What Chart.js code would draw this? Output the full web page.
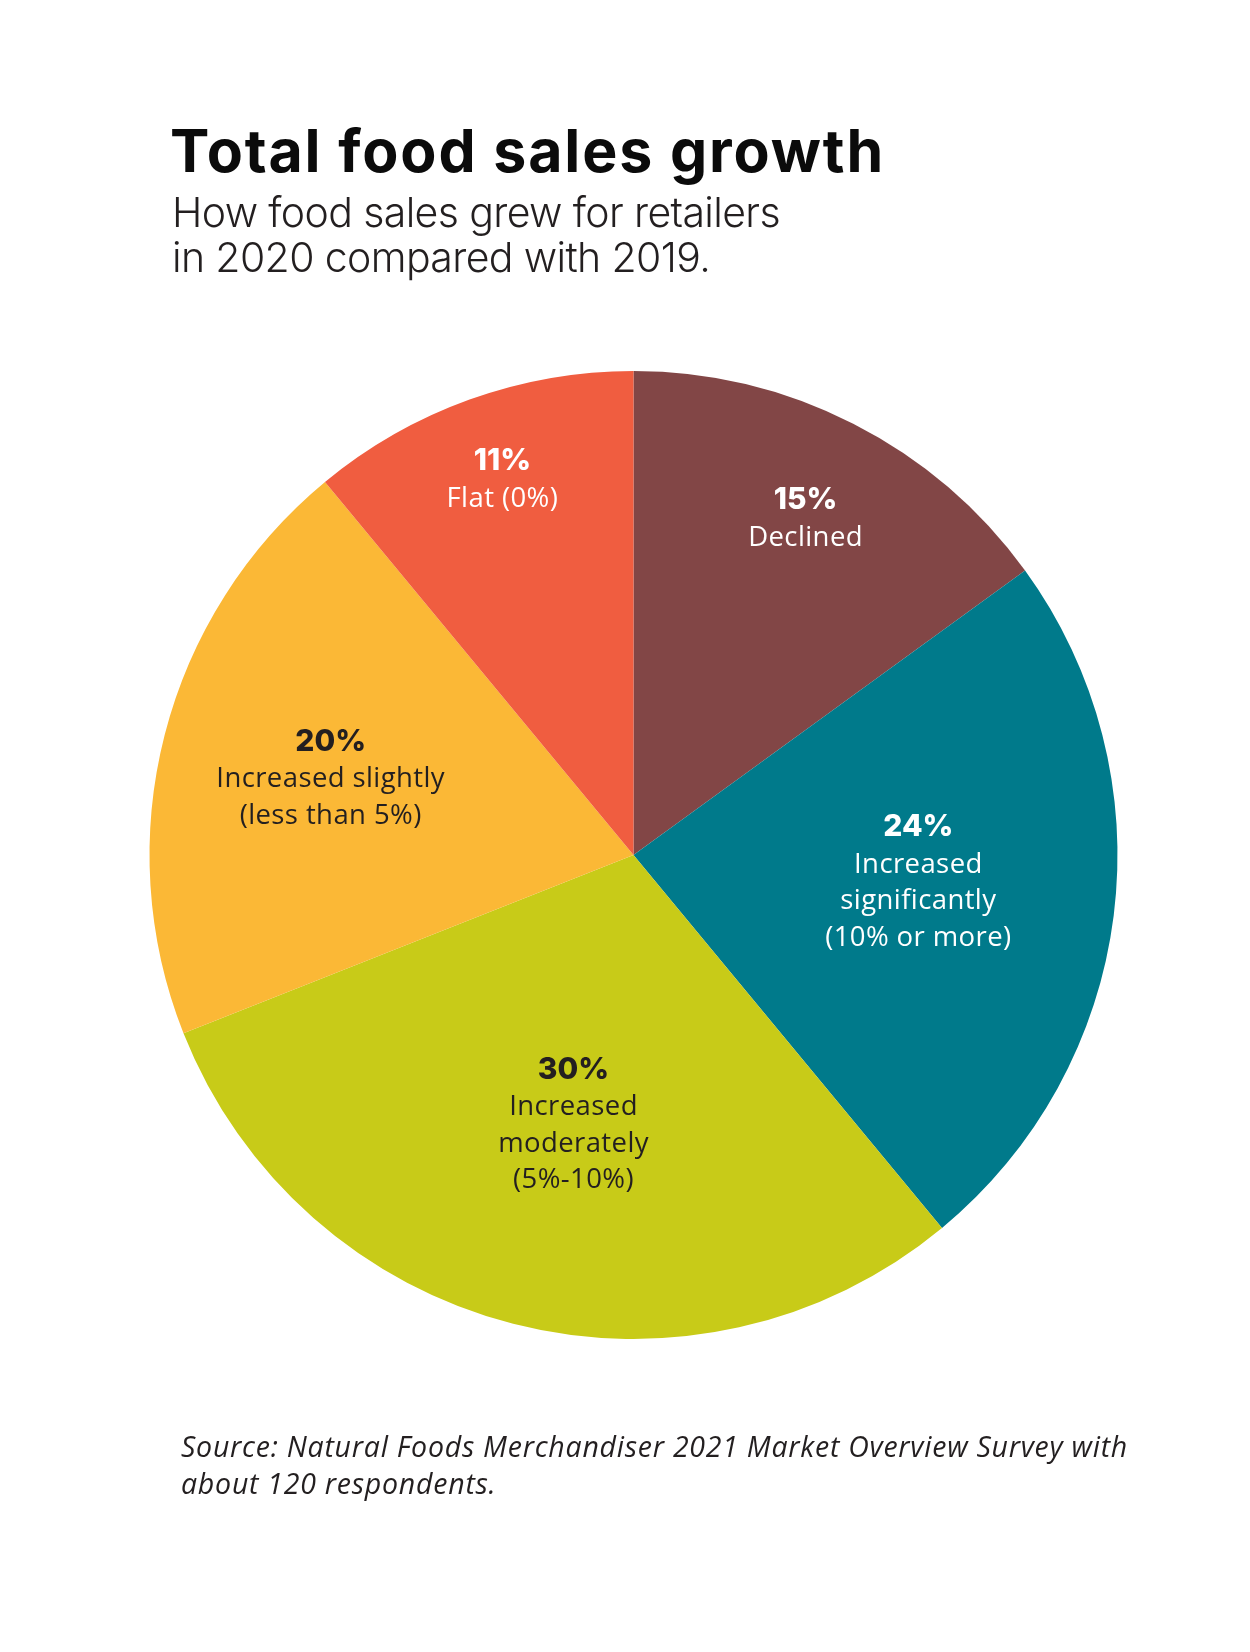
<!DOCTYPE html>
<html>
<head>
<meta charset="utf-8">
<script src="https://cdn.jsdelivr.net/npm/chart.js@4.4.1/dist/chart.umd.min.js"></script>
<style>
  html, body { margin: 0; padding: 0; background: #ffffff; }
  #page { position: relative; width: 1250px; height: 1652px; overflow: hidden; background: #fff; }
  #wrap { position: absolute; left: 0; top: 0; width: 1250px; height: 1652px; }
  .txt { position: absolute; white-space: nowrap; margin: 0; line-height: 1; }
  #title { font-family: Inter, "Noto Sans", sans-serif; font-weight: 700; font-size: 59px; color: #0b0b0b; }
  .sub { font-family: Inter, "Noto Sans", sans-serif; font-weight: 300; font-size: 41px; color: #231f20; }
  .src { font-family: "Open Sans", "Noto Sans", sans-serif; font-style: italic; font-weight: 400; font-size: 28.5px; color: #231f20; }
</style>
</head>
<body>
<div id="page">
  <div id="wrap"><canvas id="chart"></canvas></div>
  <div class="txt" id="title">Total food sales growth</div>
  <div class="txt sub" id="sub1">How food sales grew for retailers</div>
  <div class="txt sub" id="sub2">in 2020 compared with 2019.</div>
  <div class="txt src" id="src1">Source: Natural Foods Merchandiser 2021 Market Overview Survey with</div>
  <div class="txt src" id="src2">about 120 respondents.</div>
</div>
<script>
// ---- data ----
const categories = [
  "Declined",
  "Increased\nsignificantly\n(10% or more)",
  "Increased\nmoderately\n(5%-10%)",
  "Increased slightly\n(less than 5%)",
  "Flat (0%)"
];
const values = [15, 24, 30, 20, 11];
const sliceColors = ["#824646", "#007a8b", "#c8cb18", "#fbb836", "#f05d40"];
const labelColors = ["#ffffff", "#ffffff", "#231f20", "#231f20", "#ffffff"];

// label placement (fraction of radius, angle nudge in degrees)
const labelRadiusFrac = [0.783, 0.591, 0.568, 0.646, 0.824];
const labelAngleNudge = [0, -2, -1.8, 0, 0.6];

// ---- text placement helpers ----
function placeText(id, x, baseline, targetWidth, spacing) {
  const el = document.getElementById(id);
  el.style.left = x + 'px';
  el.style.top = '0px';
  if (spacing !== undefined) el.style.letterSpacing = spacing + 'px';
  if (targetWidth) {
    el.style.letterSpacing = '0px';
    const w = el.getBoundingClientRect().width;
    const n = el.textContent.length;
    spacing = (targetWidth - w) / n;
    el.style.letterSpacing = spacing + 'px';
  }
  const m = document.createElement('span');
  m.style.display = 'inline-block';
  m.style.width = '0px';
  m.style.height = '0px';
  m.style.verticalAlign = 'baseline';
  el.appendChild(m);
  const b = m.offsetTop;
  el.removeChild(m);
  el.style.top = (baseline - b) + 'px';
  return spacing;
}

function layoutTexts() {
  placeText('title', 170, 172, 715);
  const s = placeText('sub1', 172, 227, 608);
  placeText('sub2', 172, 272, undefined, s);
  const s2 = placeText('src1', 181, 1457, 947);
  placeText('src2', 181, 1494, undefined, s2);
}

// ---- slice label plugin ----
const sliceLabels = {
  id: 'sliceLabels',
  afterDatasetsDraw(chart) {
    const ctx = chart.ctx;
    const meta = chart.getDatasetMeta(0);
    const LH = 36.5;
    meta.data.forEach((arc, i) => {
      const p = arc.getProps(['x', 'y', 'startAngle', 'endAngle', 'outerRadius'], true);
      const mid = (p.startAngle + p.endAngle) / 2 + labelAngleNudge[i] * Math.PI / 180;
      const r = p.outerRadius * labelRadiusFrac[i];
      const ax = p.x + Math.cos(mid) * r;
      const ay = p.y + Math.sin(mid) * r;
      const lines = [values[i] + '%'].concat(categories[i].split('\n'));
      const first = ay - (lines.length - 1) * LH / 2 + 10;
      ctx.save();
      ctx.textAlign = 'center';
      ctx.textBaseline = 'alphabetic';
      ctx.fillStyle = labelColors[i];
      lines.forEach((t, k) => {
        if (k === 0) {
          ctx.font = '800 30px Inter, "Noto Sans", sans-serif';
          if ('letterSpacing' in ctx) ctx.letterSpacing = '0px';
        } else {
          ctx.font = '400 27.5px "Open Sans", "Noto Sans", sans-serif';
          if ('letterSpacing' in ctx) ctx.letterSpacing = '0.4px';
        }
        ctx.fillText(t, ax, first + k * LH);
      });
      ctx.restore();
    });
  }
};

function draw() {
  layoutTexts();
  new Chart(document.getElementById('chart'), {
    type: 'pie',
    data: {
      labels: categories.map(c => c.replace(/\n/g, ' ')),
      datasets: [{
        data: values,
        backgroundColor: sliceColors,
        borderWidth: 0,
        hoverOffset: 0
      }]
    },
    options: {
      responsive: true,
      maintainAspectRatio: false,
      animation: false,
      layout: { padding: { left: 149.5, right: 132.5, top: 371, bottom: 313 } },
      plugins: {
        legend: { display: false },
        title: { display: false },
        tooltip: { enabled: false }
      }
    },
    plugins: [sliceLabels]
  });
}

if (document.fonts && document.fonts.load) {
  Promise.all([
    document.fonts.load('700 59px Inter'),
    document.fonts.load('300 41px Inter'),
    document.fonts.load('800 30px Inter'),
    document.fonts.load('400 27.5px "Open Sans"'),
    document.fonts.load('italic 400 28.5px "Open Sans"')
  ]).then(draw, draw);
} else {
  draw();
}
</script>
</body>
</html>
